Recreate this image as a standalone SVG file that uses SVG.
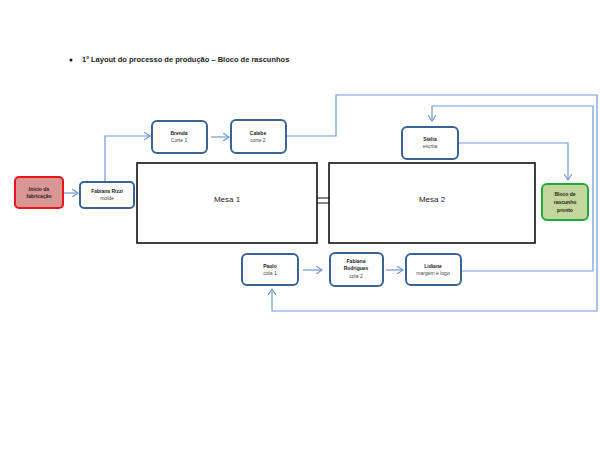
<svg xmlns="http://www.w3.org/2000/svg" width="600" height="464" viewBox="0 0 600 464">
<style>
text{font-family:"Liberation Sans",Arial,sans-serif;text-anchor:middle;fill:#222}
.b{font-size:5px;font-weight:bold}
.n{font-size:5px;fill:#444}
.node{fill:#fff;stroke:#3c6396;stroke-width:2}
.mesa{fill:#fff;stroke:#111;stroke-width:1.6}
.c{fill:none;stroke:#6f9ad6;stroke-width:1.2}
</style>
<defs><marker id="a" markerWidth="8" markerHeight="8" refX="6" refY="4" orient="auto" markerUnits="userSpaceOnUse"><path d="M0,0 L6,4 L0,8" fill="none" stroke="#6f9ad6" stroke-width="1.2"/></marker></defs>
<rect width="600" height="464" fill="#fff"/>
<g id="title"><circle cx="71" cy="60" r="1.5" fill="#111"/><text x="82" y="62" style="font-size:7.5px;font-weight:bold;text-anchor:start">1º Layout do processo de produção – Bloco de rascunhos</text></g>
<g id="connectors">
<path class="c" d="M64,193 H78" marker-end="url(#a)"/>
<path class="c" d="M105,182 V136 H150" marker-end="url(#a)"/>
<path class="c" d="M211,137 H229" marker-end="url(#a)"/>
<path class="c" d="M286,136 H336 V95 H597 V311 H272 V289" marker-end="url(#a)"/>
<path class="c" d="M461,271 H593 V106 H432 V121" marker-end="url(#a)"/>
<path class="c" d="M458,143 H568 V180" marker-end="url(#a)"/>
<path class="c" d="M303,270 H322" marker-end="url(#a)"/>
<path class="c" d="M386,270 H403" marker-end="url(#a)"/>
<path d="M317,198 H329 M317,203 H329" stroke="#111" stroke-width="1.2"/>
</g>
<g id="inicio"><rect x="15" y="177" width="48" height="31" rx="4" fill="#d99694" stroke="#e8151d" stroke-width="2"/><text class="b" x="39" y="191">Início da</text><text class="b" x="39" y="198">fabricação</text></g>
<g id="fabiana-rizzi"><rect class="node" x="80" y="182" width="54" height="26" rx="4"/><text class="b" x="107" y="193">Fabiana Rizzi</text><text class="n" x="107" y="200">molde</text></g>
<g id="brenda"><rect class="node" x="152" y="121" width="55" height="32" rx="5"/><text class="b" x="179" y="135">Brenda</text><text class="n" x="179" y="142">Corte 1</text></g>
<g id="calebe"><rect class="node" x="231" y="120" width="55" height="33" rx="5"/><text class="b" x="258" y="135">Calebe</text><text class="n" x="258" y="142">corte 2</text></g>
<g id="mesa1"><rect class="mesa" x="137" y="163" width="180" height="80"/><text x="227" y="202" style="font-size:8px">Mesa 1</text></g>
<g id="mesa2"><rect class="mesa" x="329" y="163" width="206" height="80"/><text x="432" y="202" style="font-size:8px">Mesa 2</text></g>
<g id="stelia"><rect class="node" x="402" y="127" width="56" height="32" rx="5"/><text class="b" x="430" y="141">Stélia</text><text class="n" x="430" y="148">escrita</text></g>
<g id="bloco"><rect x="542" y="184" width="46" height="36" rx="5" fill="#c3d69b" stroke="#1eaa3c" stroke-width="2"/><text class="b" x="565" y="196">Bloco de</text><text class="b" x="565" y="204">rascunho</text><text class="b" x="565" y="212">pronto</text></g>
<g id="paulo"><rect class="node" x="242" y="254" width="56" height="31" rx="5"/><text class="b" x="270" y="268">Paulo</text><text class="n" x="270" y="275">cola 1</text></g>
<g id="fabiana-rodrigues"><rect class="node" x="330" y="253" width="53" height="33" rx="5"/><text class="b" x="356" y="263">Fabiana</text><text class="b" x="356" y="270">Rodrigues</text><text class="n" x="356" y="278">cola 2</text></g>
<g id="lidiane"><rect class="node" x="406" y="254" width="55" height="31" rx="5"/><text class="b" x="433" y="268">Lidiane</text><text class="n" x="433" y="275">margem e logo</text></g>
</svg>
